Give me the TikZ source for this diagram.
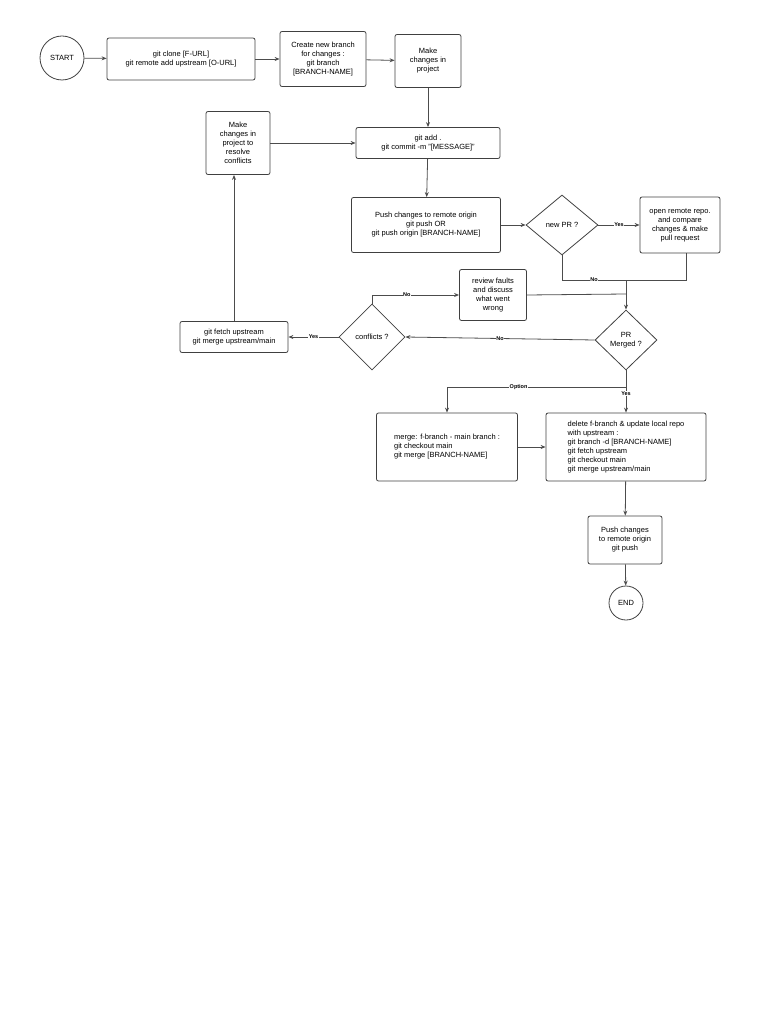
\documentclass[tikz,border=0pt]{standalone}
\usepackage{fontspec}
\setmainfont{Liberation Sans}
\usetikzlibrary{shapes.geometric,arrows.meta}
\begin{document}
\begin{tikzpicture}[x=1pt,y=-1pt,
  box/.style={draw=black!75,line width=0.8pt,rounded corners=2pt,align=center,font=\fontsize{7.5}{9}\selectfont,inner sep=2pt},
  dia/.style={draw=black!75,line width=0.8pt,diamond,aspect=1,inner sep=0pt,align=center,font=\fontsize{7.5}{9}\selectfont},
  circ/.style={draw=black!75,line width=0.8pt,circle,font=\fontsize{7.5}{9}\selectfont,inner sep=0pt},
  ar/.style={draw=black!70,line width=0.8pt,-{Stealth[length=5pt,width=4pt]}},
  ln/.style={draw=black!70,line width=0.8pt},
  lab/.style={font=\bfseries\fontsize{5.5}{6}\selectfont,fill=white,inner sep=0.5pt}]
\useasboundingbox (0,0) rectangle (768,1024);
\node[circ,minimum size=44pt] (start) at (62,58) {START};
\node[box,minimum width=148pt,minimum height=42pt] (clone) at (181,59) {git clone [F-URL]\\git remote add upstream [O-URL]};
\node[box,minimum width=86pt,minimum height=55pt] (create) at (323,59) {Create new branch\\for changes :\\git branch\\{}[BRANCH-NAME]};
\node[box,minimum width=66pt,minimum height=53pt] (make) at (428,61) {Make\\changes in\\project};
\node[box,minimum width=144pt,minimum height=31pt] (add) at (428,143) {git add .\\git commit -m "[MESSAGE]"};
\node[box,minimum width=64pt,minimum height=63pt] (resolve) at (238,143) {Make\\changes in\\project to\\resolve\\conflicts};
\node[box,minimum width=149pt,minimum height=55pt] (push) at (426,225) {Push changes to remote origin\\git push OR\\git push origin [BRANCH-NAME]};
\node[dia,minimum width=72pt,minimum height=60pt] (newpr) at (562,225) {new PR ?};
\node[box,minimum width=80pt,minimum height=56pt] (open) at (680,225) {open remote repo.\\and compare\\changes \& make\\pull request};
\node[box,minimum width=67pt,minimum height=51pt] (review) at (493,295) {review faults\\and discuss\\what went\\wrong};
\node[dia,minimum width=62pt,minimum height=60pt] (merged) at (626,340) {PR\\Merged ?};
\node[dia,minimum width=66pt,minimum height=66pt] (conf) at (372,337) {conflicts ?};
\node[box,minimum width=108pt,minimum height=31pt] (fetch) at (234,337) {git fetch upstream\\git merge upstream/main};
\node[box,minimum width=141pt,minimum height=68pt,align=left] (mergebox) at (447,447) {merge: f-branch - main branch :\\git checkout main\\git merge [BRANCH-NAME]};
\node[box,minimum width=160pt,minimum height=68pt,align=left] (del) at (626,447) {delete f-branch \& update local repo\\with upstream :\\git branch -d [BRANCH-NAME]\\git fetch upstream\\git checkout main\\git merge upstream/main};
\node[box,minimum width=74pt,minimum height=48pt] (pushc) at (625,540) {Push changes\\to remote origin\\git push};
\node[circ,minimum size=34pt] (endn) at (626,603) {END};
\coordinate (j1) at (626,280);
\coordinate (opb) at (686,253);
\coordinate (j2) at (626,294);
\coordinate (j3) at (626,387);
\draw[ar] (start) -- (clone);
\draw[ar] (clone) -- (create);
\draw[ar] (create) -- (make);
\draw[ar] (make) -- (add);
\draw[ar] (resolve) -- (add);
\draw[ar] (add) -- (push);
\draw[ar] (push) -- (newpr);
\draw[ar] (newpr) -- node[lab]{Yes} (open);
\draw[ln] (newpr.south) |- node[lab,pos=0.75]{No} (j1);
\draw[ln] (opb) |- (j1);
\draw[ln] (review.east) -- (j2);
\draw[ar] (j1) -- (merged.north);
\draw[ar] (merged.west) -- node[lab]{No} (conf.east);
\draw[ar] (conf.north) |- node[lab,pos=0.7]{No} (review.west);
\draw[ar] (conf.west) -- node[lab]{Yes} (fetch.east);
\draw[ar] (fetch.north) -- (fetch.north |- resolve.south);
\draw[ar] (merged.south) -- node[lab,pos=0.55]{Yes} (del.north);
\draw[ar] (j3) -| node[lab,pos=0.3]{Option} (mergebox.north);
\draw[ar] (mergebox) -- (del);
\draw[ar] (del) -- (pushc);
\draw[ar] (pushc) -- (endn);
\end{tikzpicture}
\end{document}
